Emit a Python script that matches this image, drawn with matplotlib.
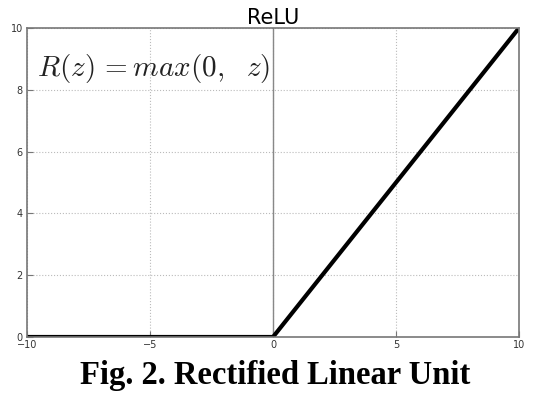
import numpy as np
import matplotlib
matplotlib.use('Agg')
import matplotlib.pyplot as plt

# dados da função ReLU
z = [-10, 0, 10]
relu = [0, 0, 10]
xticks = [-10, -5, 0, 5, 10]
yticks = [0, 2, 4, 6, 8, 10]

plt.rcParams['mathtext.fontset'] = 'cm'

fig = plt.figure(figsize=(5.38, 4.08), dpi=100)
ax = fig.add_axes([27/538, 1 - 337/408, 492/538, 309/408])

ax.axvline(0, color='#888888', linewidth=1.0)
ax.plot(z, relu, color='black', linewidth=3, solid_capstyle='butt')

ax.set_xlim(-10, 10)
ax.set_ylim(0, 10)
ax.set_xticks(xticks)
ax.set_yticks(yticks)
ax.set_xticklabels(['\u221210', '\u22125', '0', '5', '10'])
ax.tick_params(direction='in', labelsize=7, length=4, color='#777777',
               labelcolor='#333333', pad=2)
ax.tick_params(axis='y', pad=3)
ax.grid(True, linestyle=':', color='#bbbbbb', linewidth=0.8)
for s in ax.spines.values():
    s.set_color('#777777')
    s.set_linewidth(1.2)

ax.set_title('ReLU', fontsize=15, pad=2)
ax.text(-9.6, 8.7, r'$R(z)\,{=}max(0,\ \ z)$', fontsize=21, va='center',
        color='#222222')

fig.text(0.512, 0.080, 'Fig. 2. Rectified Linear Unit', ha='center', va='center',
         fontsize=23.5, fontweight='bold', family='Liberation Serif')

plt.savefig('out.png', dpi=100)
